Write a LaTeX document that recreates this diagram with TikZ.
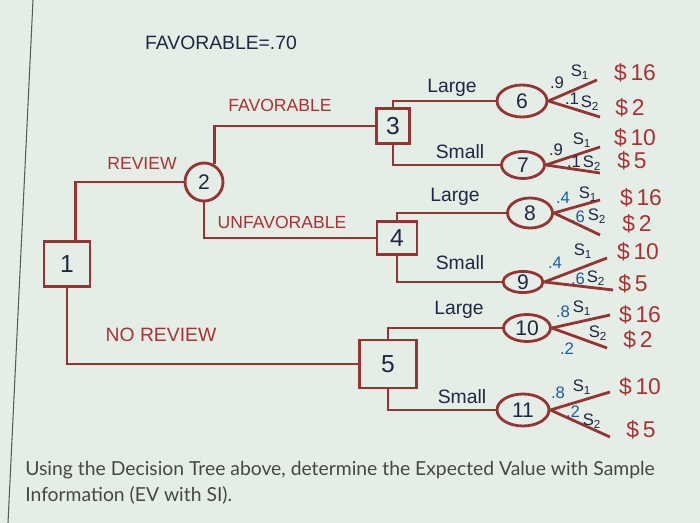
\documentclass[tikz,border=0pt]{standalone}
\usepackage{fontspec}
\setmainfont{Liberation Sans}
\newfontfamily\questfont{Lato}
\usepackage{xcolor}
\usetikzlibrary{shapes,arrows,positioning}

\definecolor{screen}{RGB}{229,238,230}
\definecolor{treeline}{RGB}{150,52,52}
\definecolor{inknavy}{RGB}{28,40,70}
\definecolor{inkblue}{RGB}{30,90,160}
\definecolor{inkred}{RGB}{170,50,50}
\definecolor{questgray}{RGB}{70,70,70}

\newcommand{\sn}[1]{S\textsubscript{#1}}

\begin{document}
\begin{tikzpicture}[x=0.02cm, y=-0.02cm,
    decision/.style={draw=treeline, line width=1.6pt, rectangle, inner sep=0pt, font=\fontsize{14}{14}\selectfont, text=inknavy},
    chance/.style={draw=treeline, line width=1.6pt, ellipse, inner sep=0pt, font=\fontsize{12}{12}\selectfont, text=inknavy},
    branch/.style={treeline, line width=1.6pt},
    capslabel/.style={font=\fontsize{10}{10}\selectfont, text=inkred},
    actlabel/.style={font=\fontsize{11}{11}\selectfont, text=inknavy},
    prob/.style={font=\fontsize{9.5}{10}\selectfont, text=inknavy, inner sep=0pt},
    probb/.style={font=\fontsize{9.5}{10}\selectfont, text=inkblue, inner sep=0pt},
    payoff/.style={font=\fontsize{13}{13}\selectfont, text=inkred, inner sep=0pt}]
    \useasboundingbox (0,0) rectangle (700,523);
    \fill[screen] (0,0) rectangle (700,523);
    \draw[gray!70!black, line width=0.6pt] (33,0) -- (8,523);

    % decision and chance nodes
    \node[decision, minimum width=0.92cm, minimum height=0.9cm] (n1) at (67,264) {1};
    \node[chance, circle, minimum size=0.76cm] (c2) at (204,182) {2};
    \node[decision, minimum width=0.66cm, minimum height=0.7cm] (n3) at (393,126) {3};
    \node[decision, minimum width=0.8cm, minimum height=0.66cm] (n4) at (397,238) {4};
    \node[decision, minimum width=1.14cm, minimum height=0.96cm] (n5) at (388,364) {5};
    \node[chance, minimum width=1.0cm, minimum height=0.64cm] (c6) at (522,101) {6};
    \node[chance, minimum width=0.86cm, minimum height=0.54cm] (c7) at (523,165) {7};
    \node[chance, minimum width=0.9cm, minimum height=0.6cm] (c8) at (530,213) {8};
    \node[chance, minimum width=0.8cm, minimum height=0.42cm] (c9) at (523,282) {9};
    \node[chance, minimum width=0.94cm, minimum height=0.54cm] (c10) at (527,328) {10};
    \node[chance, minimum width=1.04cm, minimum height=0.64cm] (c11) at (523,410) {11};

    % free ends of the outcome branches
    \coordinate (e6a) at (597,80);   \coordinate (e6b) at (600,117);
    \coordinate (e7a) at (600,147);  \coordinate (e7b) at (600,173);
    \coordinate (e8a) at (600,200);  \coordinate (e8b) at (600,235);
    \coordinate (e9a) at (607,258);  \coordinate (e9b) at (613,290);
    \coordinate (e10a) at (610,315); \coordinate (e10b) at (607,348);
    \coordinate (e11a) at (610,392); \coordinate (e11b) at (610,437);

    \draw[branch] (n1.70) |- (c2.west);
    \draw[branch] (n1.south) |- (n5.west);
    \draw[branch] (c2.60) |- (n3.west);
    \draw[branch] (c2.south) |- (n4.west);
    \draw[branch] (n3.north) |- (c6.west);
    \draw[branch] (n3.south) |- (c7.west);
    \draw[branch] (n4.north) |- (c8.west);
    \draw[branch] (n4.south) |- (c9.west);
    \draw[branch] (n5.north) |- (c10.west);
    \draw[branch] (n5.south) |- (c11.west);
    \draw[branch] (c6.east) -- (e6a);   \draw[branch] (c6.east) -- (e6b);
    \draw[branch] (c7.east) -- (e7a);   \draw[branch] (c7.east) -- (e7b);
    \draw[branch] (c8.east) -- (e8a);   \draw[branch] (c8.east) -- (e8b);
    \draw[branch] (c9.east) -- (e9a);   \draw[branch] (c9.east) -- (e9b);
    \draw[branch] (c10.east) -- (e10a); \draw[branch] (c10.east) -- (e10b);
    \draw[branch] (c11.east) -- (e11a); \draw[branch] (c11.east) -- (e11b);

    % labels on the tree
    \node[capslabel, font=\fontsize{11}{11}\selectfont, text=inknavy] (fav) at (221,43) {FAVORABLE=.70};
    \node[capslabel] (lfav) at (280,105) {FAVORABLE};
    \node[capslabel] (lunfav) at (282,222) {UNFAVORABLE};
    \node[capslabel] (lrev) at (142,163) {REVIEW};
    \node[capslabel, font=\fontsize{11}{11}\selectfont] (lnorev) at (161,335) {NO REVIEW};
    \node[actlabel] (l6) at (452,88) {Large};
    \node[actlabel] (l7) at (460,152) {Small};
    \node[actlabel] (l8) at (455,197) {Large};
    \node[actlabel] (l9) at (460,263) {Small};
    \node[actlabel] (l10) at (459,310) {Large};
    \node[actlabel] (l11) at (462,397) {Small};

    % probabilities
    \node[prob] (p6a) at (557,83) {.9};  \node[prob] (s6a) at (580,72) {\sn{1}};
    \node[prob] (p6b) at (572,99) {.1};  \node[prob] (s6b) at (590,103) {\sn{2}};
    \node[prob] (p7a) at (556,150) {.9}; \node[prob] (s7a) at (582,140) {\sn{1}};
    \node[prob] (p7b) at (574,162) {.1}; \node[prob] (s7b) at (592,163) {\sn{2}};
    \node[probb] (p8a) at (563,198) {.4}; \node[prob] (s8a) at (588,194) {\sn{1}};
    \node[probb] (p8b) at (578,217) {.6}; \node[prob] (s8b) at (597,216) {\sn{2}};
    \node[probb] (p9a) at (555,263) {.4}; \node[prob] (s9a) at (583,251) {\sn{1}};
    \node[probb] (p9b) at (578,279) {.6}; \node[prob] (s9b) at (596,278) {\sn{2}};
    \node[probb] (p10a) at (563,312) {.8}; \node[prob] (s10a) at (582,308) {\sn{1}};
    \node[probb] (p10b) at (567,349) {.2}; \node[prob] (s10b) at (598,333) {\sn{2}};
    \node[probb] (p11a) at (558,393) {.8}; \node[prob] (s11a) at (582,387) {\sn{1}};
    \node[probb] (p11b) at (573,412) {.2}; \node[prob] (s11b) at (592,421) {\sn{2}};

    % payoffs
    \node[payoff] (v6a) at (635,73) {\$\,16};  \node[payoff] (v6b) at (630,108) {\$\,2};
    \node[payoff] (v7a) at (635,138) {\$\,10}; \node[payoff] (v7b) at (632,161) {\$\,5};
    \node[payoff] (v8a) at (641,198) {\$\,16}; \node[payoff] (v8b) at (637,224) {\$\,2};
    \node[payoff] (v9a) at (638,252) {\$\,10}; \node[payoff] (v9b) at (633,284) {\$\,5};
    \node[payoff] (v10a) at (640,315) {\$\,16}; \node[payoff] (v10b) at (638,340) {\$\,2};
    \node[payoff] (v11a) at (640,387) {\$\,10}; \node[payoff] (v11b) at (641,430) {\$\,5};

    % question
    \node[anchor=north west, align=left, inner sep=0pt, text=questgray, font=\questfont\fontsize{11}{15}\selectfont] (quest) at (25,461)
        {Using the Decision Tree above, determine the Expected Value with Sample\\Information (EV with SI).};
\end{tikzpicture}
\end{document}
